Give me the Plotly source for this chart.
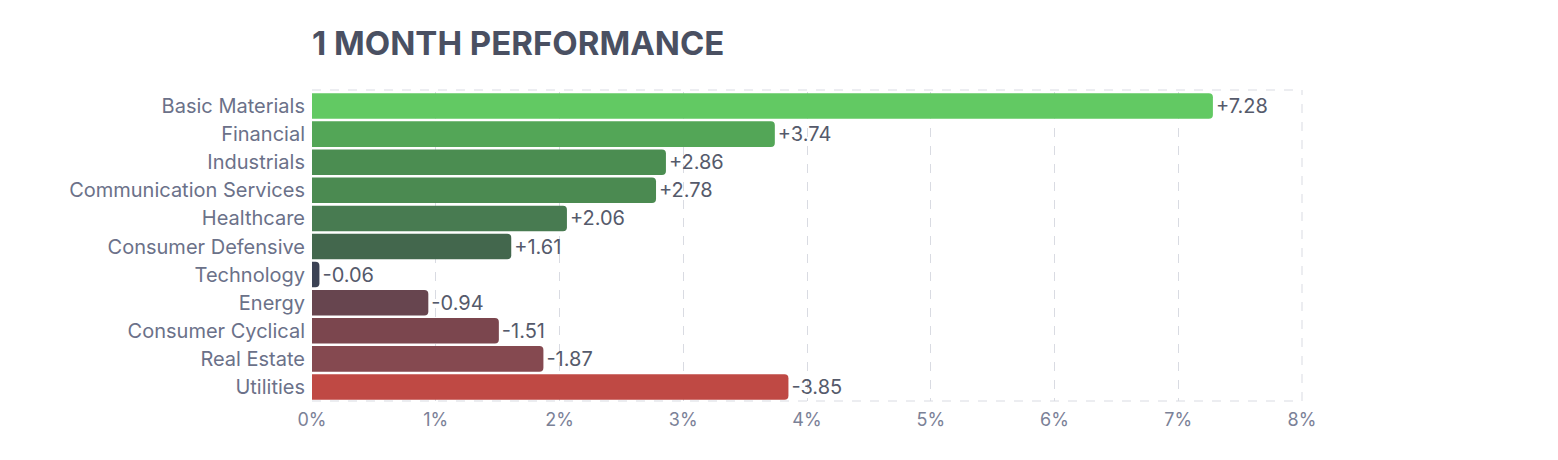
import plotly.graph_objects as go

categories = ["Basic Materials", "Financial", "Industrials", "Communication Services",
              "Healthcare", "Consumer Defensive", "Technology", "Energy",
              "Consumer Cyclical", "Real Estate", "Utilities"]
values = [7.28, 3.74, 2.86, 2.78, 2.06, 1.61, -0.06, -0.94, -1.51, -1.87, -3.85]
colors = ["#62c963", "#53a657", "#4b8d51", "#4b8a51", "#487b51", "#43674d",
          "#3b4254", "#67454f", "#7b464e", "#854950", "#bf4944"]
x_ticks = [0, 1, 2, 3, 4, 5, 6, 7, 8]
x_tick_labels = [f"{t}%" for t in x_ticks]

# page body has an 8px margin, so the figure is sized to fit the window
W, H = 1550, 452
ml, mr, mt, mb = 304, 256, 84, 59

labels = [f"{v:+.2f}" for v in values]
lengths = [abs(v) for v in values]

fig = go.Figure(go.Bar(
    x=lengths, y=categories, orientation="h",
    marker=dict(color=colors, cornerradius=4, line=dict(width=0)),
    text=labels, textposition="outside", cliponaxis=False,
    textfont=dict(family="Inter", size=20, color="#555a6b"),
    hoverinfo="skip",
))

pw = W - ml - mr
ph = H - mt - mb
grid = "#d9dbe2"
top = 1 + 2 / ph
shapes = [
    dict(type="line", xref="paper", yref="paper", x0=0, x1=1, y0=top, y1=top,
         line=dict(color=grid, width=1, dash="dash"), layer="below"),
    dict(type="line", xref="paper", yref="paper", x0=0, x1=1, y0=0, y1=0,
         line=dict(color=grid, width=1, dash="dash"), layer="below"),
    dict(type="line", xref="paper", yref="paper", x0=1, x1=1, y0=0, y1=top,
         line=dict(color=grid, width=1, dash="dash"), layer="below"),
    dict(type="rect", xref="paper", yref="paper", x0=(W - 2 - ml) / pw, x1=(W - ml) / pw,
         y0=-mb / ph, y1=1 + mt / ph, line=dict(width=0), fillcolor="#3c3c3c"),
]

fig.update_layout(
    width=W, height=H,
    margin=dict(l=ml, r=mr, t=mt, b=mb, pad=0),
    paper_bgcolor="white", plot_bgcolor="white",
    bargap=0.09,
    showlegend=False,
    title=dict(text="<b>1 MONTH PERFORMANCE</b>", x=ml / W, xanchor="left",
               y=1 - 35 / H, yanchor="middle",
               font=dict(family="Inter", size=33, color="#4a5062")),
    font=dict(family="Inter"),
    xaxis=dict(range=[0, 8], tickvals=x_ticks, ticktext=x_tick_labels,
               showgrid=True, gridcolor=grid, griddash="dash", gridwidth=1,
               zeroline=False, showline=False,
               tickfont=dict(family="Inter", size=18, color="#7b8197"),
               ticks="outside", ticklen=2, tickcolor="rgba(0,0,0,0)"),
    yaxis=dict(categoryorder="array", categoryarray=categories, autorange="reversed",
               showgrid=False, zeroline=False, showline=False,
               tickfont=dict(family="Inter", size=20, color="#6b7189"),
               ticks="outside", ticklen=2, tickcolor="rgba(0,0,0,0)"),
    shapes=shapes,
)

fig.write_html("out.html")
